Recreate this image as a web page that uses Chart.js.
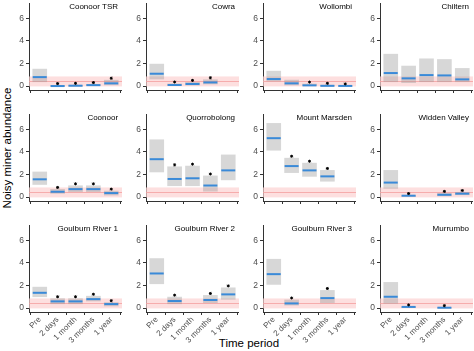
<!DOCTYPE html>
<html>
<head>
<meta charset="utf-8">
<script src="https://cdn.jsdelivr.net/npm/chart.js@4.4.1/dist/chart.umd.min.js"></script>
<style>
  body { margin: 0; width: 474px; height: 351px; background: #fff; position: relative; overflow: hidden;
         font-family: 'Liberation Sans', Arial, sans-serif; }
  canvas { position: absolute; }
  #ytitle { position: absolute; left: 7px; top: 148px; transform: translate(-50%, -50%) rotate(-90deg);
            font-size: 11.5px; white-space: nowrap; color: #000; }
  #xtitle { position: absolute; left: 249px; top: 343px; transform: translate(-50%, -50%);
            font-size: 11.5px; white-space: nowrap; color: #000; }
</style>
</head>
<body>
<div id="ytitle">Noisy miner abundance</div>
<div id="xtitle">Time period</div>
<script>
// Data
const periods = ['Pre', '2 days', '1 month', '3 months', '1 year'];
const sites = ['Coonoor TSR', 'Cowra', 'Wollombi', 'Chiltern',
               'Coonoor', 'Quorrobolong', 'Mount Marsden', 'Widden Valley',
               'Goulburn River 1', 'Goulburn River 2', 'Goulburn River 3', 'Murrumbo'];

const meanAbund = [
  [0.79, 0.00, 0.03, 0.08, 0.24],
  [1.09, 0.09, 0.18, 0.32, null],
  [0.62, 0.24, 0.06, 0.02, 0.01],
  [1.15, 0.68, 0.97, 0.94, 0.59],
  [1.57, 0.47, 0.70, 0.70, 0.35],
  [3.35, 1.60, 1.66, 1.02, 2.36],
  [5.21, 2.74, 2.36, 1.83, null],
  [1.28, 0.12, null, 0.20, 0.30],
  [1.35, 0.59, 0.59, 0.79, 0.35],
  [3.06, 0.62, null, 0.71, 1.21],
  [3.00, 0.41, null, 0.88, null],
  [1.00, 0.10, null, 0.03, null]
];
const lowerCI = [
  [0.38, -0.03, -0.02, 0.00, 0.10],
  [0.62, 0.00, 0.08, 0.18, null],
  [0.44, 0.09, 0.00, -0.01, -0.01],
  [0.38, 0.30, 0.38, 0.38, 0.38],
  [1.11, 0.32, 0.47, 0.47, 0.17],
  [2.22, 1.00, 1.00, 0.52, 1.52],
  [4.14, 2.16, 1.83, 1.40, null],
  [0.76, 0.05, null, 0.10, 0.20],
  [1.00, 0.38, 0.38, 0.62, 0.18],
  [2.15, 0.38, null, 0.47, 0.77],
  [2.09, 0.26, null, 0.47, null],
  [0.41, 0.00, null, -0.01, null]
];
const upperCI = [
  [1.50, 0.05, 0.07, 0.14, 0.52],
  [1.94, 0.19, 0.33, 0.56, null],
  [1.32, 0.53, 0.18, 0.07, 0.02],
  [2.82, 1.77, 2.41, 2.35, 1.56],
  [2.22, 0.68, 1.00, 1.00, 0.53],
  [5.07, 2.68, 2.74, 1.87, 3.73],
  [6.52, 3.44, 3.00, 2.36, null],
  [2.36, 0.14, null, 0.33, 0.41],
  [1.85, 0.83, 0.83, 1.05, 0.48],
  [4.38, 0.97, null, 1.12, 1.79],
  [4.32, 0.72, null, 1.56, null],
  [2.27, 0.11, null, 0.04, null]
];
// 1 = asterisk shown above the interval
const signif = [
  [0, 1, 1, 1, 1],
  [0, 1, 1, 1, 0],
  [0, 0, 1, 1, 1],
  [0, 0, 0, 0, 0],
  [0, 1, 1, 1, 1],
  [0, 1, 1, 1, 0],
  [0, 1, 1, 1, 0],
  [0, 1, 0, 1, 1],
  [0, 1, 1, 1, 1],
  [0, 1, 0, 1, 1],
  [0, 1, 0, 1, 0],
  [0, 1, 0, 1, 0]
];
const yTicks = [0, 2, 4, 6];
const refBandLow = -0.03, refBandHigh = 0.85, refLine = 0.48;
const starGap = 0.17;

const colLeft = [29, 146, 263, 380];
const rowTop = [3, 114, 225];
const plotW = 93, plotH = 87, axisW = 22;
const FONT = "'Liberation Sans', Arial, sans-serif";

// pink reference band behind the bars
const refBand = {
  id: 'refBand',
  beforeDatasetsDraw(chart) {
    const { ctx, chartArea: a, scales: { y } } = chart;
    const t = y.getPixelForValue(refBandHigh), b = y.getPixelForValue(refBandLow);
    ctx.save();
    ctx.fillStyle = 'rgba(252,210,210,0.7)';
    ctx.fillRect(a.left, t, a.right - a.left, b - t);
    ctx.strokeStyle = 'rgba(245,160,160,0.8)';
    ctx.lineWidth = 1;
    const ly = Math.round(y.getPixelForValue(refLine)) + 0.5;
    ctx.beginPath(); ctx.moveTo(a.left, ly); ctx.lineTo(a.right, ly); ctx.stroke();
    ctx.restore();
  }
};

// site name in the top-right corner of each panel
const panelTitle = {
  id: 'panelTitle',
  afterDraw(chart, args, opts) {
    const { ctx, scales: { x, y } } = chart;
    ctx.save();
    ctx.fillStyle = '#000';
    ctx.font = '8px ' + FONT;
    ctx.textAlign = 'right';
    ctx.textBaseline = 'middle';
    ctx.fillText(opts.text, x.getPixelForValue(5.38), y.getPixelForValue(7));
    ctx.restore();
  }
};

sites.forEach((site, k) => {
  const r = Math.floor(k / 4), c = k % 4;
  const bottomRow = r === 2;
  const xh = bottomRow ? 34 : 4;

  const cv = document.createElement('canvas');
  cv.width = plotW + axisW;
  cv.height = plotH + xh;
  cv.style.left = (colLeft[c] - axisW) + 'px';
  cv.style.top = rowTop[r] + 'px';
  document.body.appendChild(cv);

  const boxes = [], mids = [], stars = [];
  periods.forEach((p, i) => {
    if (meanAbund[k][i] === null) return;
    boxes.push({ x: i + 1, y: [lowerCI[k][i], upperCI[k][i]] });
    mids.push({ x: i + 1, y: meanAbund[k][i] });
    if (signif[k][i]) stars.push({ x: i + 1, y: upperCI[k][i] + starGap });
  });

  new Chart(cv, {
    type: 'bar',
    data: {
      datasets: [
        { type: 'bar', data: boxes, order: 3, backgroundColor: 'rgba(150,150,150,0.38)',
          borderWidth: 0, barThickness: 14 },
        { type: 'line', data: mids, order: 2, showLine: false, pointStyle: 'line',
          pointRadius: 7, pointBorderWidth: 2, pointBorderColor: '#3a8ad8' },
        { type: 'line', data: stars, order: 1, showLine: false, pointStyle: 'star',
          pointRadius: 1.5, pointBorderWidth: 1, pointBorderColor: '#000' }
      ]
    },
    options: {
      responsive: false,
      animation: false,
      devicePixelRatio: 1,
      layout: { padding: 0, autoPadding: false },
      plugins: { legend: { display: false }, tooltip: { enabled: false }, panelTitle: { text: site } },
      scales: {
        x: {
          type: 'linear', min: 0.4, max: 5.6, offset: false,
          afterBuildTicks: s => { s.ticks = periods.map((p, i) => ({ value: i + 1 })); },
          afterFit: s => { s.height = xh; s.paddingLeft = 0; s.paddingRight = 0; },
          ticks: { display: bottomRow, autoSkip: false, maxRotation: 45, minRotation: 45, padding: 0,
                   color: '#4d4d4d', font: { size: 8, family: FONT },
                   callback: v => periods[Math.round(v) - 1] },
          grid: { display: true, drawOnChartArea: false, drawTicks: true, tickLength: 3, tickColor: '#333' },
          border: { display: true, color: '#333', width: 1 }
        },
        y: {
          min: -0.35, max: 7.35,
          afterBuildTicks: s => { s.ticks = yTicks.map(v => ({ value: v })); },
          afterFit: s => { s.width = axisW; s.paddingTop = 0; s.paddingBottom = 0; },
          ticks: { color: '#4d4d4d', font: { size: 8.5, family: FONT }, padding: 2 },
          grid: { display: true, drawOnChartArea: false, drawTicks: true, tickLength: 3, tickColor: '#333' },
          border: { display: true, color: '#333', width: 1 }
        }
      }
    },
    plugins: [refBand, panelTitle]
  });
});
</script>
</body>
</html>
